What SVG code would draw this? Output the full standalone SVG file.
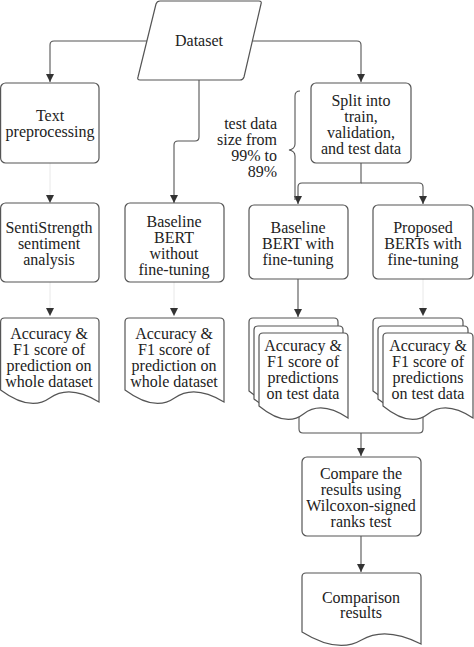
<svg xmlns="http://www.w3.org/2000/svg" width="474" height="647" viewBox="0 0 474 647">
<defs>
<marker id="arr" markerUnits="userSpaceOnUse" markerWidth="8" markerHeight="8" refX="8" refY="4" orient="auto">
<path d="M0,0 L8,4 L0,8 z" fill="#333"/>
</marker>
<style>
.box{fill:#fff;stroke:#555;stroke-width:1.2}
.con{fill:none;stroke:#555;stroke-width:1.1;marker-end:url(#arr)}
.faint{fill:none;stroke:#e8e8e8;stroke-width:1;marker-end:url(#arr)}
.plain{fill:none;stroke:#555;stroke-width:1.1}
.t{font-family:"Liberation Serif",serif;font-size:16px;fill:#222;text-anchor:middle}
.r{text-anchor:end}
</style>
</defs>
<rect width="474" height="647" fill="#fff"/>

<g id="connectors">
<path class="con" d="M147,41 H54 Q50,41 50,45 V82"/>
<path class="con" d="M252,41 H357 Q361,41 361,45 V82"/>
<path class="con" d="M199,80 V137 Q199,141 195,141 H178 Q174,141 174,145 V203"/>
<path class="faint" d="M50,163 V203"/>
<path class="con" d="M361,163 V183 H302 Q298,183 298,187 V204"/>
<path class="con" d="M361,183 H419 Q423,183 423,187 V204"/>
<path class="con" d="M298,279 V317"/>
<path class="faint" d="M50,282 V316"/>
<path class="faint" d="M174,282 V316"/>
<path class="faint" d="M423,279 V316"/>
<path class="plain" d="M299,416 V429 Q299,433 303,433 H419 Q423,433 423,429 V417"/>
<path class="con" d="M361,433 V456"/>
<path class="con" d="M361,536 V572"/>
<path class="plain" d="M300,91 Q295,91 295,96 V144 Q295,149 289,150 Q295,151 295,156 V200"/>
</g>

<g id="dataset">
<path class="box" stroke-linejoin="round" d="M160,1 H259 Q262,1 261,4 L244,77 Q243,80 240,80 H140 Q137,80 138,77 L156,4 Q157,1 160,1 Z"/>
<text class="t" x="199" y="45.5">Dataset</text>
</g>

<g id="text-preprocessing">
<rect class="box" x="0.6" y="83" width="98.4" height="80" rx="5"/>
<text class="t" x="50" y="120.5">Text</text>
<text class="t" x="50" y="136.5">preprocessing</text>
</g>

<g id="split">
<rect class="box" x="311" y="83" width="100" height="80" rx="5"/>
<text class="t" x="361" y="106">Split into</text>
<text class="t" x="361" y="122">train,</text>
<text class="t" x="361" y="138">validation,</text>
<text class="t" x="361" y="154">and test data</text>
</g>

<g id="test-size-label">
<text class="t r" x="277" y="128.5">test data</text>
<text class="t r" x="277" y="144.5">size from</text>
<text class="t r" x="277" y="160.5">99% to</text>
<text class="t r" x="277" y="176.5">89%</text>
</g>

<g id="sentistrength">
<rect class="box" x="0.6" y="203" width="98.4" height="79" rx="5"/>
<text class="t" x="49" y="232.5">SentiStrength</text>
<text class="t" x="49" y="248.5">sentiment</text>
<text class="t" x="49" y="264.5">analysis</text>
</g>

<g id="bert-without">
<rect class="box" x="125" y="203" width="99" height="79" rx="5"/>
<text class="t" x="174" y="227">Baseline</text>
<text class="t" x="174" y="243">BERT</text>
<text class="t" x="174" y="259">without</text>
<text class="t" x="174" y="275">fine-tuning</text>
</g>

<g id="bert-with">
<rect class="box" x="249" y="205" width="99" height="74" rx="5"/>
<text class="t" x="298" y="232.5">Baseline</text>
<text class="t" x="298" y="248.5">BERT with</text>
<text class="t" x="298" y="264.5">fine-tuning</text>
</g>

<g id="proposed">
<rect class="box" x="373" y="205" width="100" height="74" rx="5"/>
<text class="t" x="423" y="232.5">Proposed</text>
<text class="t" x="423" y="248.5">BERTs with</text>
<text class="t" x="423" y="264.5">fine-tuning</text>
</g>

<g id="doc-senti">
<path class="box" d="M0.6,390 V322 Q0.6,318 4.6,318 H95 Q99,318 99,322 V402 Q69.5,384 49.8,398 Q30.1,412 0.6,390 Z"/>
<text class="t" x="49" y="338.5">Accuracy &amp;</text>
<text class="t" x="49" y="354.5">F1 score of</text>
<text class="t" x="49" y="370.5">prediction on</text>
<text class="t" x="49" y="386.5">whole dataset</text>
</g>

<g id="doc-without">
<path class="box" d="M125,390 V322 Q125,318 129,318 H220 Q224,318 224,322 V402 Q194.3,384 174.5,398 Q154.7,412 125,390 Z"/>
<text class="t" x="174" y="338.5">Accuracy &amp;</text>
<text class="t" x="174" y="354.5">F1 score of</text>
<text class="t" x="174" y="370.5">prediction on</text>
<text class="t" x="174" y="386.5">whole dataset</text>
</g>

<g id="multidoc-with">
<path class="box" d="M249,391 V322 Q249,318 253,318 H334 Q338,318 338,322 V403 Q311.3,385 293.5,399 Q275.7,413 249,391 Z"/>
<path class="box" d="M254,399 V330 Q254,326 258,326 H339 Q343,326 343,330 V411 Q316.3,393 298.5,407 Q280.7,421 254,399 Z"/>
<path class="box" d="M259,406 V337 Q259,333 263,333 H344 Q348,333 348,337 V418 Q321.3,400 303.5,414 Q285.7,428 259,406 Z"/>
<text class="t" x="303" y="350.5">Accuracy &amp;</text>
<text class="t" x="303" y="366.5">F1 score of</text>
<text class="t" x="303" y="382.5">predictions</text>
<text class="t" x="303" y="398.5">on test data</text>
</g>

<g id="multidoc-proposed">
<path class="box" d="M373,391 V322 Q373,318 377,318 H459 Q463,318 463,322 V403 Q436,385 418,399 Q400,413 373,391 Z"/>
<path class="box" d="M378,399 V330 Q378,326 382,326 H464 Q468,326 468,330 V411 Q441,393 423,407 Q405,421 378,399 Z"/>
<path class="box" d="M383,406 V337 Q383,333 387,333 H469 Q473,333 473,337 V418 Q446,400 428,414 Q410,428 383,406 Z"/>
<text class="t" x="428" y="350.5">Accuracy &amp;</text>
<text class="t" x="428" y="366.5">F1 score of</text>
<text class="t" x="428" y="382.5">predictions</text>
<text class="t" x="428" y="398.5">on test data</text>
</g>

<g id="compare">
<rect class="box" x="302" y="457" width="119" height="79" rx="5"/>
<text class="t" x="361" y="478.5">Compare the</text>
<text class="t" x="361" y="494.5">results using</text>
<text class="t" x="361" y="510.5">Wilcoxon-signed</text>
<text class="t" x="361" y="526.5">ranks test</text>
</g>

<g id="comparison-results">
<path class="box" d="M302,632 V577 Q302,573 306,573 H417 Q421,573 421,577 V644 Q385.3,626 361.5,640 Q337.7,654 302,632 Z"/>
<text class="t" x="361" y="602.5">Comparison</text>
<text class="t" x="361" y="618">results</text>
</g>
</svg>
